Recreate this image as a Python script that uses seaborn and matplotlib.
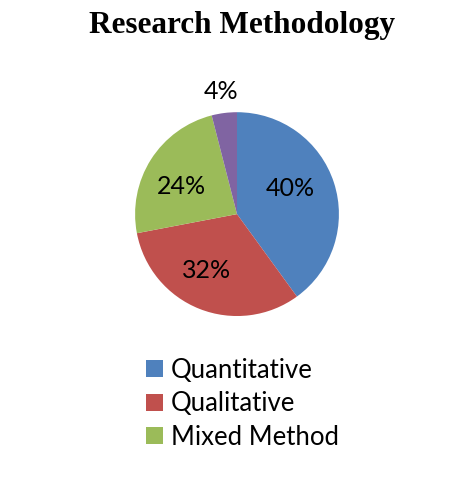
import numpy as np
import matplotlib
matplotlib.use("Agg")
import matplotlib.pyplot as plt
import seaborn as sns

categories = ["Quantitative", "Qualitative", "Mixed Method", "Other"]
shares = [40, 32, 24, 4]
legend_labels = ["Quantitative", "Qualitative", "Mixed Method"]
colors = ["#4F81BD", "#C0504D", "#9BBB59", "#8064A2"]
# % label placement: distance from centre (radius units) and angle nudge (deg)
label_dist = [0.58, 0.63, 0.61, 1.215]
label_nudge = [8, -7, 6.5, 0]

sns.set_theme(style="white")
plt.rcParams["font.family"] = ["Lato", "DejaVu Sans"]

fig = plt.figure(figsize=(4.74, 4.79), dpi=100)
ax = fig.add_axes([0.285, 0.340, 0.430, 0.426])

wedges, _ = ax.pie(shares, colors=colors, startangle=90, counterclock=False,
                   wedgeprops=dict(linewidth=0))
ax.set_xlim(-1, 1)
ax.set_ylim(-1, 1)
ax.set_aspect("equal")

for w, val, d, nd in zip(wedges, shares, label_dist, label_nudge):
    ang = np.deg2rad((w.theta1 + w.theta2) / 2 + nd)
    ax.text(d * np.cos(ang), d * np.sin(ang), f"{val}%", ha="center", va="center",
            fontsize=18, color="black", clip_on=False)

fig.text(0.51, 0.946, "Research Methodology", ha="center", va="center",
         fontsize=22.5, fontweight="bold", family="Liberation Serif", color="black")

leg = fig.legend(wedges[:3], legend_labels, loc="upper left", bbox_to_anchor=(0.308, 0.253),
                 frameon=False, fontsize=18.5, handlelength=0.65, handleheight=0.65,
                 handletextpad=0.32, labelspacing=0.33, borderaxespad=0, borderpad=0)
for t in leg.get_texts():
    t.set_color("black")

fig.savefig("out.png", dpi=100)
